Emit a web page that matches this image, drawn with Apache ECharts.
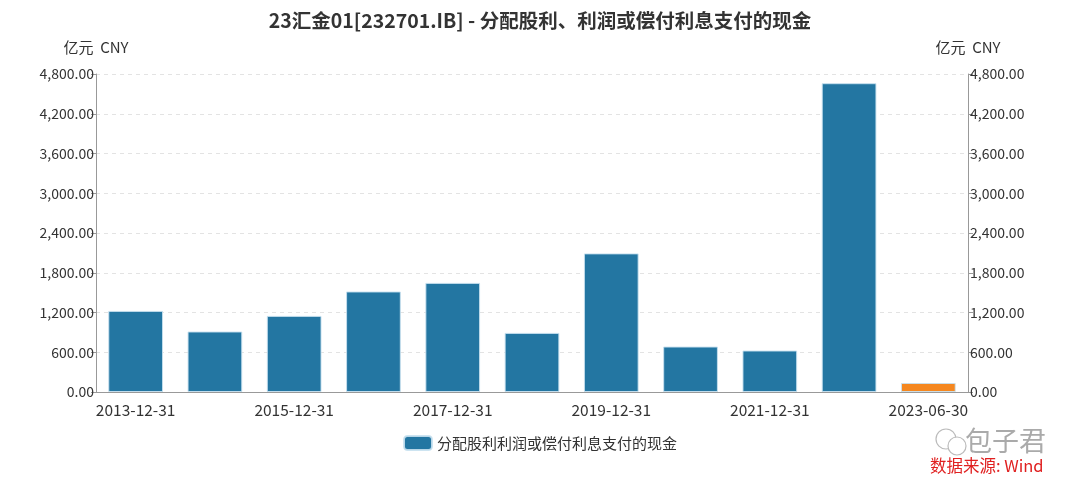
<!DOCTYPE html>
<html><head><meta charset="utf-8">
<script src="https://cdn.jsdelivr.net/npm/echarts@6/dist/echarts.min.js"></script>
<style>html,body{margin:0;padding:0;background:#fff}#c{width:1080px;height:491px}</style>
</head><body><div id="c"></div>
<script>
const categories = ['2013-12-31','2014-12-31','2015-12-31','2016-12-31','2017-12-31','2018-12-31','2019-12-31','2020-12-31','2021-12-31','2022-12-31','2023-06-30'];
const values = [1224, 913, 1149, 1517, 1647, 892, 2092, 686, 626, 4661, 136];
const seriesName = '分配股利利润或偿付利息支付的现金';
const titleText = '23汇金01[232701.IB] - 分配股利、利润或偿付利息支付的现金';
const unitName = '亿元  CNY';
const blue = '#2376a2', orange = '#f5871f';
const font = '"Noto Sans CJK SC","Noto Sans",sans-serif';
const fmt = v => v.toLocaleString('en-US',{minimumFractionDigits:2,maximumFractionDigits:2});
const chart = echarts.init(document.getElementById('c'));
const yAxisBase = (pos) => ({
  type:'value', position:pos, min:0, max:4800, interval:600,
  name:unitName, nameGap:19, nameTextStyle:{color:'#333',fontSize:15,fontFamily:font,align:'center'},
  axisLine:{show:true,lineStyle:{color:'#999'}},
  axisTick:{show:true,length:5,lineStyle:{color:'#999'}},
  axisLabel:{color:'#333',fontSize:14,fontFamily:font,margin:2,formatter:fmt},
  splitLine:{show:pos==='left',lineStyle:{type:[4,4],color:'#e3e3e3'}}
});
chart.setOption({
  animation:false,
  title:{text:titleText,left:'center',top:6,textStyle:{fontSize:19.5,fontWeight:'bold',color:'#333',fontFamily:font}},
  grid:{left:96,right:112,top:74,bottom:99},
  legend:{bottom:35,left:'center',itemWidth:28,itemHeight:14,itemGap:10,textStyle:{fontSize:15,color:'#333',fontFamily:font},data:[{name:seriesName,icon:'roundRect'}]},
  xAxis:{type:'category',data:categories,
    axisLine:{lineStyle:{color:'#999'}},
    axisTick:{alignWithLabel:true,interval:1,length:6,lineStyle:{color:'#999'}},
    axisLabel:{interval:1,color:'#333',fontSize:15.5,fontFamily:font,margin:10}},
  yAxis:[yAxisBase('left'), yAxisBase('right')],
  series:[{name:seriesName,type:'bar',barCategoryGap:'31%',
    data:values.map((v,i)=>({value:v,itemStyle:{color:i===values.length-1?orange:blue}})),
    itemStyle:{color:blue,borderColor:'rgba(200,225,240,0.9)',borderWidth:1}}],
  graphic:[
    {type:'circle',shape:{cx:946,cy:439,r:10},style:{fill:'none',stroke:'#bbb',lineWidth:1.2}},
    {type:'circle',shape:{cx:957,cy:446,r:9},style:{fill:'#fff',stroke:'#bbb',lineWidth:1.2}},
    {type:'text',left:965,top:427,style:{text:'包子君',fontSize:27,fill:'#aaa',fontFamily:font}},
    {type:'text',left:930,top:457,style:{text:'数据来源: Wind',fontSize:16.5,fill:'#e02020',fontFamily:font}}
  ]
});
</script></body></html>
